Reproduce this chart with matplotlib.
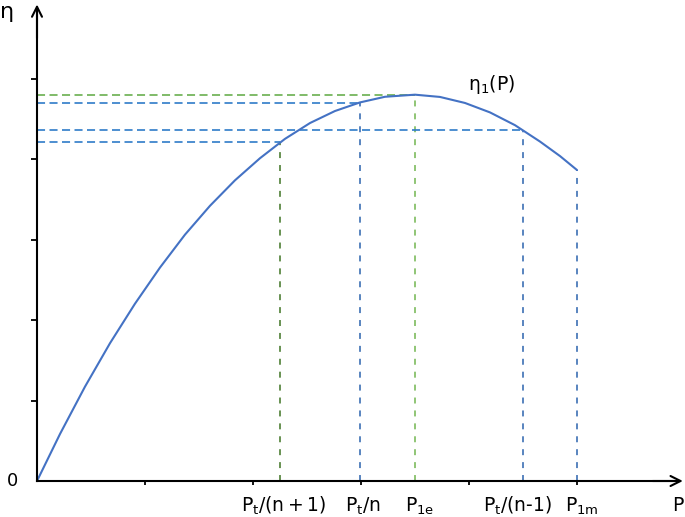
"""
Efficiency curve eta1(P) with the operating points marked
"""

import matplotlib
matplotlib.use("Agg")
import matplotlib.pyplot as plt

# curve (x and y in tick units)
curve_p = [0.0, 0.213, 0.444, 0.676, 0.907, 1.139, 1.370, 1.602, 1.833,
           2.065, 2.296, 2.528, 2.759, 2.991, 3.222, 3.500, 3.731, 3.963,
           4.194, 4.426, 4.657, 4.843, 5.000]
curve_eta = [0.0, 0.584, 1.171, 1.712, 2.202, 2.652, 3.060, 3.419, 3.735,
             4.010, 4.250, 4.447, 4.596, 4.703, 4.773, 4.799, 4.771, 4.696,
             4.579, 4.420, 4.217, 4.036, 3.863]

# marked operating points
mark_labels = [r'$\mathregular{P_t/(n+1)}$', r'$\mathregular{P_t/n}$',
               r'$\mathregular{P_{1e}}$', r'$\mathregular{P_t/(n‐1)}$',
               r'$\mathregular{P_{1m}}$']
mark_p = [2.25, 2.99, 3.50, 4.50, 5.00]
mark_eta = [4.21, 4.70, 4.80, 4.355, 3.863]
label_p = [2.28, 3.02, 3.54, 4.45, 5.04]
hline_color = ['#2F7BC8', '#2F7BC8', '#6AAF4F', '#2F7BC8', None]
vline_color = ['#4E7F35', '#3C6FB4', '#7DBB5E', '#3C6FB4', '#3C6FB4']

x_ticks = [1, 2, 3, 4, 5]
y_ticks = [1, 2, 3, 4, 5]

plt.rcParams['lines.scale_dashes'] = False

fig = plt.figure(figsize=(6.85, 5.17), dpi=100)
ax = fig.add_axes([0, 0, 1, 1])
ax.set_xlim(-37 / 108, 648 / 108)
ax.set_ylim(-36 / 80.5, 481 / 80.5)

# axes with ticks
for s in ['top', 'right']:
    ax.spines[s].set_visible(False)
ax.spines['left'].set_position(('data', 0))
ax.spines['bottom'].set_position(('data', 0))
ax.spines['left'].set_bounds(0, 5.8)
ax.spines['bottom'].set_bounds(0, 5.9)
for s in ['left', 'bottom']:
    ax.spines[s].set_linewidth(1.5)
ax.set_xticks(x_ticks)
ax.set_yticks(y_ticks)
ax.set_xticklabels([])
ax.set_yticklabels([])
ax.tick_params(axis='x', direction='out', length=3, width=1.3, color='black')
ax.tick_params(axis='y', direction='out', length=4, width=1.3, color='black')

ax.annotate('', xy=(5.98, 0), xytext=(5.7, 0),
            arrowprops=dict(arrowstyle='->', lw=1.5, color='black',
                            mutation_scale=18, shrinkA=0, shrinkB=0))
ax.annotate('', xy=(0, 5.92), xytext=(0, 5.5),
            arrowprops=dict(arrowstyle='->', lw=1.5, color='black',
                            mutation_scale=18, shrinkA=0, shrinkB=0))

# dashed guide lines
for p, e, hc, vc in zip(mark_p, mark_eta, hline_color, vline_color):
    if hc is not None:
        ax.plot([0, p], [e, e], color=hc, lw=1.2, dashes=[5.8, 3.2])
    ax.plot([p, p], [0, e], color=vc, lw=1.2, dashes=[4.3, 5.0])

ax.plot(curve_p, curve_eta, color='#4472C4', lw=1.5, solid_capstyle='round',
        solid_joinstyle='round')

# labels
for lab, lp in zip(mark_labels, label_p):
    ax.text(lp, -0.31, lab, ha='center', va='center', fontsize=13.5)
ax.text(5.93, -0.31, 'P', ha='center', va='center', fontsize=13.5)
ax.text(-0.23, 0.0, '0', ha='center', va='center', fontsize=13)
ax.text(-0.28, 5.82, 'η', ha='center', va='center', fontsize=16)
ax.text(4.21, 4.92, r'$\mathregular{\eta_1(P)}$', ha='center', va='center',
        fontsize=13.5)

plt.savefig('out.png', dpi=100)
